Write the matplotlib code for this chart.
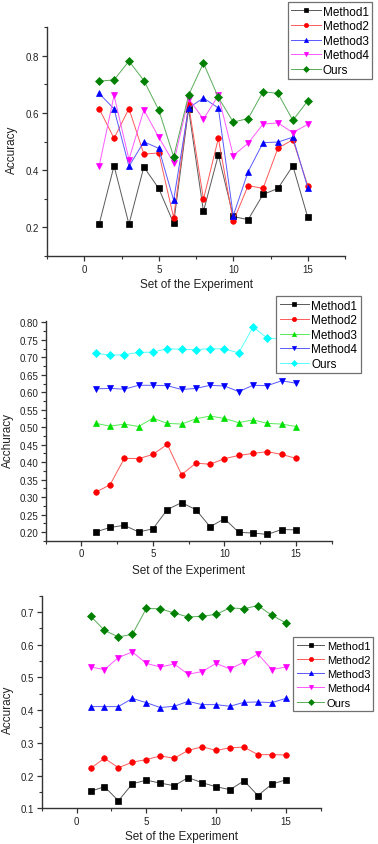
import matplotlib
matplotlib.use("Agg")
import matplotlib.pyplot as plt
from matplotlib.ticker import MultipleLocator
from matplotlib.colors import to_rgb

plt.rcParams['font.family'] = ['Liberation Sans', 'DejaVu Sans']

x = list(range(1, 16))
methods = ["Method1", "Method2", "Method3", "Method4", "Ours"]

# ---- Top chart ----
top_m1 = [0.211, 0.415, 0.211, 0.411, 0.336, 0.214, 0.614, 0.256, 0.453, 0.238, 0.227, 0.315, 0.336, 0.415, 0.235]
top_m2 = [0.615, 0.511, 0.615, 0.456, 0.460, 0.234, 0.630, 0.298, 0.511, 0.221, 0.346, 0.336, 0.477, 0.506, 0.346]
top_m3 = [0.668, 0.614, 0.413, 0.499, 0.476, 0.295, 0.617, 0.652, 0.617, 0.241, 0.395, 0.496, 0.498, 0.515, 0.339]
top_m4 = [0.414, 0.661, 0.437, 0.610, 0.515, 0.426, 0.650, 0.578, 0.661, 0.451, 0.494, 0.561, 0.565, 0.531, 0.560]
top_ours = [0.711, 0.715, 0.781, 0.713, 0.610, 0.447, 0.662, 0.774, 0.654, 0.568, 0.580, 0.674, 0.668, 0.574, 0.642]

# ---- Middle chart ----
mid_m1 = [0.200, 0.213, 0.219, 0.200, 0.209, 0.264, 0.284, 0.264, 0.215, 0.238, 0.199, 0.197, 0.193, 0.207, 0.206]
mid_m2 = [0.314, 0.335, 0.411, 0.410, 0.422, 0.451, 0.364, 0.397, 0.394, 0.410, 0.419, 0.425, 0.430, 0.422, 0.411]
mid_m3 = [0.511, 0.503, 0.509, 0.502, 0.526, 0.511, 0.509, 0.524, 0.532, 0.525, 0.513, 0.521, 0.511, 0.509, 0.502]
mid_m4 = [0.610, 0.611, 0.609, 0.620, 0.620, 0.619, 0.608, 0.611, 0.620, 0.618, 0.602, 0.620, 0.619, 0.633, 0.626]
mid_ours = [0.712, 0.706, 0.708, 0.714, 0.715, 0.725, 0.723, 0.722, 0.725, 0.724, 0.713, 0.787, 0.755, 0.752, 0.760]

# ---- Bottom chart ----
bot_m1 = [0.152, 0.166, 0.123, 0.175, 0.186, 0.177, 0.169, 0.194, 0.178, 0.166, 0.157, 0.184, 0.139, 0.174, 0.187]
bot_m2 = [0.222, 0.253, 0.224, 0.241, 0.249, 0.260, 0.253, 0.277, 0.288, 0.277, 0.285, 0.287, 0.264, 0.264, 0.263]
bot_m3 = [0.411, 0.411, 0.411, 0.436, 0.423, 0.408, 0.412, 0.427, 0.417, 0.417, 0.412, 0.424, 0.425, 0.423, 0.436]
bot_m4 = [0.532, 0.524, 0.561, 0.578, 0.543, 0.532, 0.541, 0.510, 0.518, 0.543, 0.526, 0.547, 0.572, 0.524, 0.532]
bot_ours = [0.688, 0.644, 0.624, 0.632, 0.711, 0.710, 0.697, 0.685, 0.687, 0.693, 0.713, 0.710, 0.720, 0.690, 0.667]

W, H = 378, 845
fig = plt.figure(figsize=(W / 100, H / 100), dpi=100)

def lighten(c, f=0.35):
    r, g, b = to_rgb(c)
    return (r + (1 - r) * f, g + (1 - g) * f, b + (1 - b) * f)

def px_axes(l, r, t, b):
    return fig.add_axes([l / W, 1 - b / H, (r - l) / W, (b - t) / H])

def style(ax, ylim, ymaj, ymin, ylabel, yfmt):
    ax.set_xlim(-2.5, 17.5)
    ax.set_ylim(*ylim)
    ax.xaxis.set_major_locator(MultipleLocator(5))
    ax.xaxis.set_minor_locator(MultipleLocator(2.5))
    ax.yaxis.set_major_locator(MultipleLocator(ymaj))
    ax.yaxis.set_minor_locator(MultipleLocator(ymin))
    ax.yaxis.set_major_formatter(plt.FormatStrFormatter(yfmt))
    for s in ['top', 'right']:
        ax.spines[s].set_visible(False)
    for s in ['left', 'bottom']:
        ax.spines[s].set_linewidth(1.0)
        ax.spines[s].set_color('#333333')
    ax.tick_params(which='major', direction='out', length=3.5, width=0.9, labelsize=7, pad=2, colors='#333333', labelcolor='#222222')
    ax.tick_params(which='minor', direction='out', length=2, width=0.8, colors='#333333')
    ax.set_xlabel("Set of the Experiment", fontsize=8.5, color='#222222')
    ax.set_ylabel(ylabel, fontsize=8.5, color='#222222')

def draw(ax, series, colors, markers):
    for vals, c, m, name in zip(series, colors, markers, methods):
        ax.plot(x, vals, color=lighten(c), marker=m, markersize=4, lw=0.7, label=name,
                markerfacecolor=c, markeredgewidth=0.5, markeredgecolor=c)

def legend(ax, l, t, fs, sp):
    leg = ax.legend(loc='upper left', bbox_to_anchor=(l / W, 1 - t / H),
                    bbox_transform=fig.transFigure, borderaxespad=0,
                    fontsize=fs, frameon=True, fancybox=False, framealpha=1,
                    edgecolor='#707070', handlelength=2.5, handletextpad=0.2,
                    labelspacing=sp, borderpad=0.3, markerscale=0.75)
    leg.get_frame().set_linewidth(0.9)
    return leg

# Top
ax1 = px_axes(47, 345, 28, 257)
draw(ax1, [top_m1, top_m2, top_m3, top_m4, top_ours],
     ['#000000', '#ff0000', '#0000ff', '#ff00ff', '#008000'],
     ['s', 'o', '^', 'v', 'D'])
style(ax1, (0.1, 0.9), 0.2, 0.1, "Accuracy", "%.1f")
ax1.yaxis.set_label_coords(-0.096, 0.467)
ax1.xaxis.set_label_coords(0.5, -0.098)
legend(ax1, 287.5, 3, 8.5, 0.22)

# Middle
ax2 = px_axes(45.7, 331.7, 321.7, 541.7)
draw(ax2, [mid_m1, mid_m2, mid_m3, mid_m4, mid_ours],
     ['#000000', '#ff0000', '#00e000', '#0000ff', '#00ffff'],
     ['s', 'o', '^', 'v', 'D'])
style(ax2, (0.175, 0.805), 0.05, 0.025, "Acchuracy", "%.2f")
ax2.yaxis.set_label_coords(-0.111, 0.462)
ax2.xaxis.set_label_coords(0.5, -0.104)
legend(ax2, 276, 297, 8.5, 0.22)

# Bottom
ax3 = px_axes(41.7, 320.7, 596.7, 809.3)
draw(ax3, [bot_m1, bot_m2, bot_m3, bot_m4, bot_ours],
     ['#000000', '#ff0000', '#0000ff', '#ff00ff', '#008000'],
     ['s', 'o', '^', 'v', 'D'])
style(ax3, (0.1, 0.75), 0.1, 0.05, "Accuracy", "%.1f")
ax3.yaxis.set_label_coords(-0.1, 0.467)
ax3.xaxis.set_label_coords(0.5, -0.101)
legend(ax3, 293.3, 638.3, 8.0, 0.38)

fig.savefig("out.png", dpi=100)
